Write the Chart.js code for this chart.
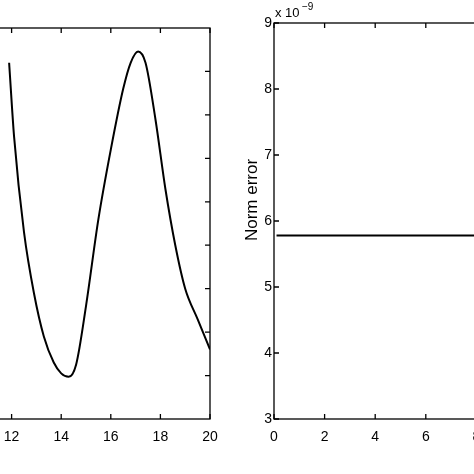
<!DOCTYPE html><html><head><meta charset="utf-8">
<script src="https://cdn.jsdelivr.net/npm/chart.js@4/dist/chart.umd.min.js"></script>
<style>html,body{margin:0;padding:0;background:#fff;overflow:hidden;width:474px;height:474px;position:relative}
canvas{position:absolute;top:0}</style></head><body>
<div style="position:absolute;left:-150px;top:0;width:380px;height:474px"><canvas id="a"></canvas></div>
<div style="position:absolute;left:237px;top:0;width:300px;height:474px"><canvas id="b"></canvas></div>
<script>
const leftX = [11.9,12.1,12.5,12.9,13.3,13.7,14.0,14.3,14.6,15.0,15.5,16.0,16.5,16.8,17.1,17.4,17.8,18.2,18.6,19.0,19.5,20.0];
const leftY = [8.2,6.5,4.3,2.9,1.9,1.3,1.05,0.97,1.25,2.6,4.6,6.2,7.6,8.2,8.46,8.2,6.9,5.3,4.0,3.0,2.3,1.6];
const leftXTicks = [12,14,16,18,20];
const rightX = [0.1,2,4,6,8,10];
const rightY = [5.78,5.78,5.78,5.78,5.78,5.78];
const rightYTicks = [3,4,5,6,7,8,9];
const rightXTicks = [0,2,4,6,8,10];
const FONT = {family:'"Liberation Sans", Arial, sans-serif', size:14};
const frame = {id:'frame', afterDraw(c, a, o){
  const ctx=c.ctx, ca=c.chartArea, xs=c.scales.x, ys=c.scales.y;
  ctx.save(); ctx.strokeStyle='#000'; ctx.lineWidth=1.3;
  ctx.strokeRect(ca.left,ca.top,ca.right-ca.left,ca.bottom-ca.top);
  ctx.beginPath();
  xs.ticks.forEach(t=>{const p=xs.getPixelForValue(t.value);ctx.moveTo(p,ca.bottom);ctx.lineTo(p,ca.bottom-5);ctx.moveTo(p,ca.top);ctx.lineTo(p,ca.top+5);});
  ys.ticks.forEach(t=>{const p=ys.getPixelForValue(t.value);ctx.moveTo(ca.left,p);ctx.lineTo(ca.left+5,p);ctx.moveTo(ca.right,p);ctx.lineTo(ca.right-5,p);});
  ctx.stroke();
  if(o.extra){ctx.fillStyle='#000';ctx.font='13px "Liberation Sans", Arial';ctx.fillText('x 10',ca.left+1,17);
    ctx.font='10px "Liberation Sans", Arial';ctx.fillText('−9',ca.left+28,10);
    ctx.font='17px "Liberation Sans", Arial';ctx.translate(20,200);ctx.rotate(-Math.PI/2);ctx.textAlign='center';ctx.fillText('Norm error',0,0);}
  ctx.restore();}};
function mk(id, xs, ys, xmin, xmax, xt, ymin, ymax, yt, showY, pad, extra){
  new Chart(document.getElementById(id),{type:'line',
    data:{datasets:[{data:xs.map((x,i)=>({x,y:ys[i]})),borderColor:'#000',borderWidth:2,pointRadius:0,cubicInterpolationMode:'monotone',fill:false}]},
    options:{responsive:true,maintainAspectRatio:false,animation:false,events:[],
      layout:{padding:pad},
      plugins:{legend:{display:false},tooltip:{enabled:false},frame:{extra}},
      scales:{
        x:{type:'linear',min:xmin,max:xmax,grid:{display:false},border:{display:false},
          afterBuildTicks:s=>{s.ticks=xt.map(v=>({value:v}));},
          ticks:{color:'#000',font:FONT,padding:2,maxRotation:0},afterFit:s=>{s.height=55;}},
        y:{type:'linear',min:ymin,max:ymax,display:true,grid:{display:false},border:{display:false},
          afterBuildTicks:s=>{s.ticks=yt.map(v=>({value:v}));},
          ticks:{display:showY,color:'#000',font:FONT,padding:-6},afterFit:s=>{s.width=showY?37:0;}}}},
    plugins:[frame]});
}
mk('a',leftX,leftY,10,20,leftXTicks,0,9,[1,2,3,4,5,6,7,8],false,{top:28,left:112,right:20,bottom:0},false);
mk('b',rightX,rightY,0,10,rightXTicks,3,9,rightYTicks,true,{top:23,left:0,right:10,bottom:0},true);
</script></body></html>
